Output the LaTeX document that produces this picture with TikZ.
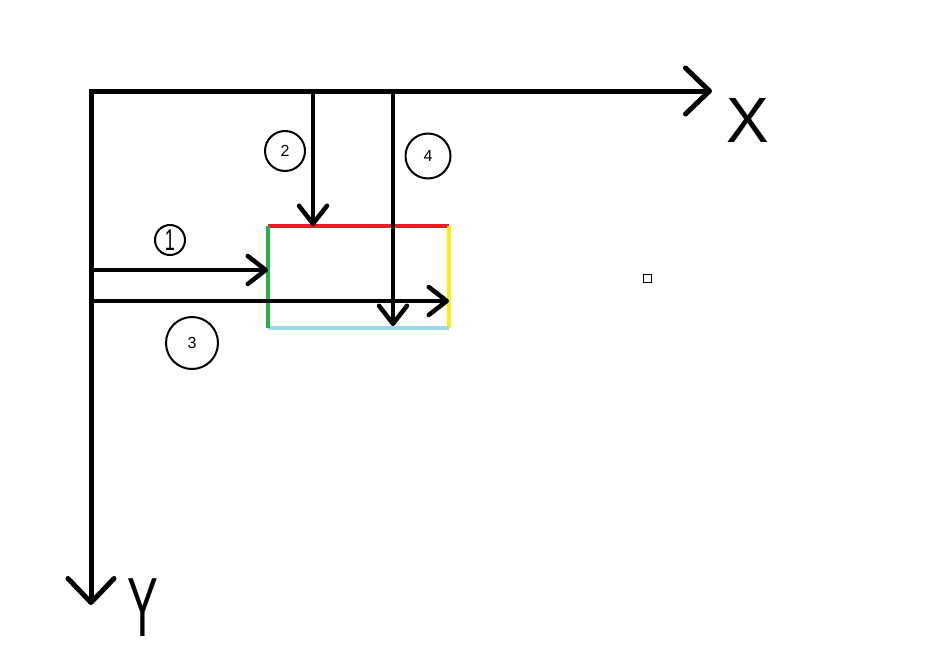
\documentclass[tikz,border=0pt]{standalone}
\usepackage{fontspec}
\setmainfont{Liberation Sans}
\usetikzlibrary{arrows.meta}
\definecolor{paintred}{RGB}{237,28,36}
\definecolor{paintyellow}{RGB}{255,242,0}
\definecolor{paintgreen}{RGB}{34,177,76}
\definecolor{paintblue}{RGB}{153,217,234}

\begin{document}
\begin{tikzpicture}[x=1pt,y=-1pt,
    axis/.style={line width=5pt, line cap=rect, -{Straight Barb[length=24pt,width=46pt,round]}},
    move/.style={line width=4.5pt, -{Straight Barb[length=18pt,width=28pt,round]}},
    side/.style={line width=4pt},
    num/.style={circle, draw, line width=2pt, inner sep=0pt, font=\fontsize{16}{16}\selectfont}]
        \useasboundingbox (0,0) rectangle (944,669);

        % Axes
        \coordinate (O) at (91,91);
        \coordinate (xend) at (712,91);
        \coordinate (yend) at (91,605);
        \draw[axis] (O) -- (xend);
        \draw[axis] (O) -- (yend);
        \node[inner sep=0pt, font=\fontsize{64}{64}\selectfont] (xlab) at (748,120) {X};
        \node[inner sep=0pt, font=\fontsize{84}{84}\selectfont] (ylab) at (143,608) {\scalebox{0.55}[1]{Y}};

        % The box
        \coordinate (tl) at (268,226);
        \coordinate (tr) at (449,226);
        \coordinate (br) at (449,328);
        \coordinate (bl) at (268,328);
        \draw[side, paintred] (tl) -- (tr);
        \draw[side, paintyellow] (tr) -- (br);
        \draw[side, paintblue] (bl) -- (br);
        \draw[side, paintgreen] (tl) -- (bl);

        % Start points of the moves
        \coordinate (s1) at (91,270);
        \coordinate (s2) at (313,91);
        \coordinate (s3) at (91,301);
        \coordinate (s4) at (393,91);

        % Moves
        %1
        \draw[move] (s1) -- (tl |- s1);
        %2
        \draw[move] (s2) -- (s2 |- tl);
        %3
        \draw[move] (s3) -- (tr |- s3);
        %4
        \draw[move] (s4) -- ([yshift=2pt]s4 |- bl);

        % Numbers
        \node[num, minimum size=30pt, font=\fontsize{30}{30}\selectfont] (n1) at (170,240) {\scalebox{0.6}[1]{1}};
        \node[num, minimum size=40pt] (n2) at (285,151) {2};
        \node[num, minimum size=52pt] (n3) at (192,343) {3};
        \node[num, minimum size=45pt] (n4) at (428,156) {4};

        % Small square
        \node[draw, line width=1pt, minimum size=8pt, inner sep=0pt] (dot) at (647,278) {};
    \end{tikzpicture}
\end{document}
